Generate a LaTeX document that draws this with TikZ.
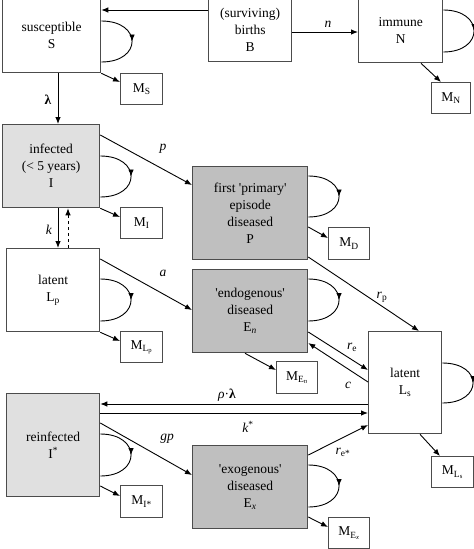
\documentclass[tikz,border=0pt]{standalone}
\usepackage{fontspec}
\setmainfont{Liberation Serif}
\usetikzlibrary{arrows.meta,decorations.markings}
\definecolor{lightfill}{gray}{0.88}
\definecolor{darkfill}{gray}{0.75}
\definecolor{boxline}{gray}{0.3}
\begin{document}
\begin{tikzpicture}[x=1pt,y=1pt,
 box/.style={draw=boxline,line width=1.3pt,anchor=north west,inner sep=0pt,align=center,font=\fontsize{13.5}{17}\selectfont},
 mbox/.style={box,font=\fontsize{13.5}{16}\selectfont},
 light/.style={fill=lightfill},
 dark/.style={fill=darkfill},
 arr/.style={line width=0.9pt,-{Latex[length=7pt,width=5.5pt]}},
 lab/.style={font=\fontsize{13.5}{16}\selectfont,inner sep=0pt},
 loopy/.style={line width=0.9pt, decoration={markings, mark=at position 0.5 with {\arrow{Latex[length=7pt,width=5.5pt]}}}, postaction={decorate}},
]
\useasboundingbox (0,0) rectangle (474,-549);
\clip (0,0) rectangle (474,-549);

% boxes
\node[box, minimum width=98pt, minimum height=75pt] (S) at (2,3) {susceptible\\S};
\node[box, minimum width=83pt, minimum height=64pt] (B) at (208,3) {(surviving)\\births\\B};
\node[box, minimum width=84pt, minimum height=65pt] (N) at (358,3) {immune\\N};
\node[mbox, minimum width=42pt, minimum height=31pt] (MS) at (120,-73) {M\textsubscript{S}};
\node[mbox, minimum width=39pt, minimum height=31pt] (MN) at (431,-82) {M\textsubscript{N}};
\node[box, light, minimum width=97pt, minimum height=83pt] (I) at (2,-124) {infected\\(< 5 years)\\I};
\node[mbox, minimum width=42pt, minimum height=31pt] (MI) at (120,-207) {M\textsubscript{I}};
\node[box, dark, minimum width=115pt, minimum height=93pt] (P) at (192,-166) {first \textquotesingle primary\textquotesingle\\episode\\diseased\\P};
\node[mbox, minimum width=41pt, minimum height=32pt] (MD) at (328,-227) {M\textsubscript{D}};
\node[box, minimum width=93pt, minimum height=83pt] (Lp) at (6,-248) {latent\\L\textsubscript{p}};
\node[mbox, minimum width=42pt, minimum height=31pt] (MLp) at (120,-331) {M\textsubscript{L\textsubscript{p}}};
\node[box, dark, minimum width=115pt, minimum height=83pt] (En) at (192,-269) {\textquotesingle endogenous\textquotesingle\\diseased\\E\textsubscript{\textit{n}}};
\node[mbox, minimum width=41pt, minimum height=32pt] (MEn) at (276,-361) {M\textsubscript{E\textsubscript{\textit{n}}}};
\node[box, minimum width=73pt, minimum height=102pt] (Ls) at (368,-331) {latent\\L\textsubscript{s}};
\node[mbox, minimum width=42pt, minimum height=31pt] (MLs) at (431,-456) {M\textsubscript{L\textsubscript{s}}};
\node[box, light, minimum width=93pt, minimum height=103pt] (Is) at (6,-393) {reinfected\\I\textsuperscript{*}};
\node[mbox, minimum width=42pt, minimum height=32pt] (MIs) at (120,-485) {M\textsubscript{I*}};
\node[box, dark, minimum width=115pt, minimum height=83pt] (Ex) at (192,-445) {\textquotesingle exogenous\textquotesingle\\diseased\\E\textsubscript{\textit{x}}};
\node[mbox, minimum width=41pt, minimum height=31pt] (MEx) at (328,-517) {M\textsubscript{E\textsubscript{\textit{x}}}};

% main connectors
\draw[arr] (B.west |- 0,-10) -- (S.east |- 0,-10);
\draw[arr] (B.east |- 0,-32) -- (N.west |- 0,-32);
\draw[arr] (S.south -| 58,0) -- (I.north -| 58,0);
\draw[arr] (I.north east |- 0,-135) -- (P.west |- 0,-185);
\draw[arr] (I.south -| 58,0) -- (Lp.north -| 58,0);
\draw[arr,dashed] (Lp.north -| 68,0) -- (I.south -| 68,0);
\draw[arr] (Lp.north east |- 0,-259) -- (En.west |- 0,-310);
\draw[arr] (P.south east |- 0,-257) -- (Ls.north -| 419,0);
\draw[arr] (En.east |- 0,-332) -- (Ls.west |- 0,-370);
\draw[arr] (Ls.west |- 0,-382) -- (En.east |- 0,-343);
\draw[arr] (Ls.west |- 0,-404) -- (Is.east |- 0,-404);
\draw[arr] (Is.east |- 0,-413) -- (Ls.west |- 0,-413);
\draw[arr] (Is.east |- 0,-423) -- (Ex.west |- 0,-475);
\draw[arr] (Ex.east |- 0,-455) -- (Ls.west |- 0,-425);

% mortality connectors
\draw[arr] (S.south east) -- (MS.west |- 0,-82);
\draw[arr] (N.south -| 421,0) -- (MN.north -| 441,0);
\draw[arr] (I.south east) -- (MI.west |- 0,-217);
\draw[arr] (P.east |- 0,-227) -- (MD.west |- 0,-238);
\draw[arr] (Lp.south east) -- (MLp.west |- 0,-341);
\draw[arr] (En.south -| 245,0) -- (MEn.west |- 0,-370);
\draw[arr] (Ls.south -| 420,0) -- (MLs.north -| 440,0);
\draw[arr] (Is.east |- 0,-486) -- (MIs.west |- 0,-496);
\draw[arr] (Ex.east |- 0,-517) -- (MEx.west |- 0,-527);

% self loops
\draw[loopy] (S.east |- 0,-21) .. controls +(41,0) and +(41,0) .. (S.east |- 0,-62);
\draw[loopy] (N.east |- 0,-10) .. controls +(41,0) and +(41,0) .. (N.east |- 0,-52);
\draw[loopy] (I.east |- 0,-156) .. controls +(41,0) and +(41,0) .. (I.east |- 0,-197);
\draw[loopy] (P.east |- 0,-176) .. controls +(41,0) and +(41,0) .. (P.east |- 0,-217);
\draw[loopy] (Lp.east |- 0,-279) .. controls +(41,0) and +(41,0) .. (Lp.east |- 0,-321);
\draw[loopy] (En.east |- 0,-279) .. controls +(41,0) and +(41,0) .. (En.east |- 0,-321);
\draw[loopy] (Ls.east |- 0,-363) .. controls +(41,0) and +(41,0) .. (Ls.east |- 0,-403);
\draw[loopy] (Is.east |- 0,-434) .. controls +(41,0) and +(41,0) .. (Is.east |- 0,-476);
\draw[loopy] (Ex.east |- 0,-465) .. controls +(41,0) and +(41,0) .. (Ex.east |- 0,-507);

% labels
\node[lab] (ln) at (328,-24) {\textit{n}};
\node[lab] (llam) at (48,-100) {\textbf{λ}};
\node[lab] (lp) at (163,-149) {\textit{p}};
\node[lab] (lk) at (49,-230) {\textit{k}};
\node[lab] (la) at (163,-273) {\textit{a}};
\node[lab] (lrp) at (382,-297) {\textit{r}\textsubscript{p}};
\node[lab] (lre) at (352,-347) {\textit{r}\textsubscript{e}};
\node[lab] (lc) at (348,-385) {\textit{c}};
\node[lab] (lrho) at (227,-395) {\textit{ρ}·\textbf{λ}};
\node[lab] (lks) at (248,-427) {\textit{k}\textsuperscript{*}};
\node[lab] (lgp) at (167,-439) {\textit{gp}};
\node[lab] (lres) at (343,-452) {\textit{r}\textsubscript{e*}};
\end{tikzpicture}
\end{document}
